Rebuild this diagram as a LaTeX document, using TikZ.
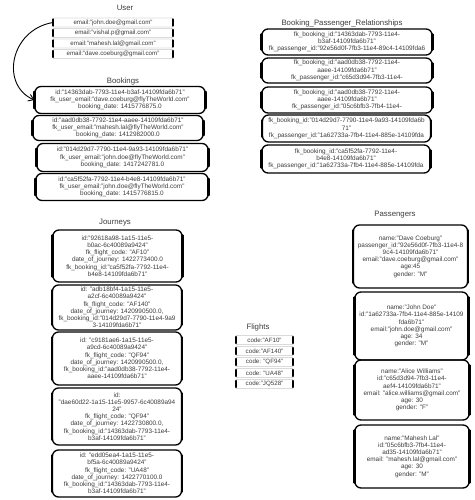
\documentclass[tikz,border=0pt]{standalone}
\usepackage{fontspec}
\setmainfont{Liberation Sans}
\usepackage{tikz}
\usetikzlibrary{arrows.meta,positioning}
\definecolor{InkGray}{RGB}{60,60,60}
\definecolor{RowGray}{RGB}{150,150,150}

\begin{document}
\begin{tikzpicture}[x=1pt,y=-1pt,
  ttl/.style={font=\fontsize{7.8}{9}\selectfont,text=InkGray},
  recbox/.style={draw=black,line width=1.3pt,rounded corners=6pt,inner sep=1pt,
                 align=center,text=InkGray,font=\fontsize{6.4}{7.2}\selectfont},
  rowbox/.style={draw=RowGray,line width=0.4pt,rounded corners=1pt,inner sep=0pt,
                 minimum height=9pt,align=center,text=InkGray,font=\fontsize{6.2}{7}\selectfont},
  side/.style={line width=2.4pt,line cap=round},
  rowside/.style={line width=1.8pt,line cap=round},
]
\useasboundingbox (0,0) rectangle (474,500);

% User
\node[ttl] (userT) at (125,8) {User};
\foreach \i/\y/\mail in {1/22.5/{john.doe@gmail.com}, 2/33/{vishal.p@gmail.com},
                         3/43.5/{mahesh.lal@gmail.com}, 4/54/{dave.coeburg@gmail.com}}
  \node[rowbox,minimum width=120pt] (usr\i) at (113,\y) {email:"\mail"};

% Bookings
\node[ttl] (bookT) at (123,81) {Bookings};
\node[recbox,minimum width=170pt,minimum height=27pt] (bk1) at (120,100)
  {id:"14363dab-7793-11e4-b3af-14109fda6b71"\\fk\_user\_email:"dave.coeburg@flyTheWorld.com"\\booking\_date: 1415776875.0};
\node[recbox,minimum width=170pt,minimum height=25pt] (bk2) at (118,128)
  {id:"aad0db38-7792-11e4-aaee-14109fda6b71"\\fk\_user\_email:"mahesh.lal@flyTheWorld.com"\\booking\_date: 1412982000.0};
\node[recbox,minimum width=171pt,minimum height=28pt] (bk3) at (122.5,157.5)
  {id:"014d29d7-7790-11e4-9a93-14109fda6b71"\\fk\_user\_email:"john.doe@flyTheWorld.com"\\booking\_date: 1417242781.0};
\node[recbox,minimum width=172pt,minimum height=27pt] (bk4) at (122,187)
  {id:"ca5f52fa-7792-11e4-b4e8-14109fda6b71"\\fk\_user\_email:"john.doe@flyTheWorld.com"\\booking\_date: 1415776815.0};

% Booking_Passenger_Relationships
\node[ttl] (relT) at (342,23) {Booking\_Passenger\_Relationships};
\node[recbox,minimum width=170pt,minimum height=26pt] (rel1) at (347,42)
  {fk\_booking\_id:"14363dab-7793-11e4-\\b3af-14109fda6b71"\\fk\_passenger\_id:"92e56d0f-7fb3-11e4-89c4-14109fda6};
\node[recbox,minimum width=170pt,minimum height=25pt] (rel2) at (347,70.5)
  {fk\_booking\_id:"aad0db38-7792-11e4-\\aaee-14109fda6b71"\\fk\_passenger\_id:"c65d3d94-7fb3-11e4-};
\node[recbox,minimum width=170pt,minimum height=26pt] (rel3) at (347,100)
  {fk\_booking\_id:"aad0db38-7792-11e4-\\aaee-14109fda6b71"\\fk\_passenger\_id:"05c6bfb3-7fb4-11e4-};
\node[recbox,minimum width=168pt,minimum height=27pt] (rel4) at (346.5,128.5)
  {fk\_booking\_id:"014d29d7-7790-11e4-9a93-14109fda6b\\71"\\fk\_passenger\_id:"1a62733a-7fb4-11e4-885e-14109fda};
\node[recbox,minimum width=168pt,minimum height=28pt] (rel5) at (346,159)
  {fk\_booking\_id:"ca5f52fa-7792-11e4-\\b4e8-14109fda6b71"\\fk\_passenger\_id:"1a62733a-7fb4-11e4-885e-14109fda};

% Journeys
\node[ttl] (jrnT) at (115,223) {Journeys};
\node[recbox,minimum width=129pt,minimum height=52pt] (jr1) at (117.5,256)
  {id:"92618a98-1a15-11e5-\\b0ac-6c40089a9424"\\fk\_flight\_code: "AF10"\\date\_of\_journey: 1422773400.0\\fk\_booking\_id:"ca5f52fa-7792-11e4-\\b4e8-14109fda6b71"};
\node[recbox,minimum width=129pt,minimum height=45pt] (jr2) at (117,307.5)
  {id: "adb18bf4-1a15-11e5-\\a2cf-6c40089a9424"\\fk\_flight\_code: "AF140"\\date\_of\_journey: 1420990500.0,\\fk\_booking\_id:"014d29d7-7790-11e4-9a9\\3-14109fda6b71"};
\node[recbox,minimum width=129pt,minimum height=53pt] (jr3) at (117,358.5)
  {id: "c9181ae6-1a15-11e5-\\a9cd-6c40089a9424"\\fk\_flight\_code: "QF94"\\date\_of\_journey: 1420990500.0,\\fk\_booking\_id:"aad0db38-7792-11e4-\\aaee-14109fda6b71"};
\node[recbox,minimum width=129pt,minimum height=57pt] (jr4) at (117,416.5)
  {id:\\"dae60d22-1a15-11e5-9957-6c40089a94\\24"\\fk\_flight\_code: "QF94"\\date\_of\_journey: 1422730800.0,\\fk\_booking\_id:"14363dab-7793-11e4-\\b3af-14109fda6b71"};
\node[recbox,minimum width=129pt,minimum height=47pt] (jr5) at (117,473.5)
  {id: "edd05ea4-1a15-11e5-\\bf5a-6c40089a9424"\\fk\_flight\_code: "UA48"\\date\_of\_journey: 1422770100.0\\fk\_booking\_id:"14363dab-7793-11e4-\\b3af-14109fda6b71"};

% Flights
\node[ttl] (fltT) at (258,327) {Flights};
\foreach \i/\y/\code in {1/340/{code:"AF10"}, 2/351/{code:"AF140"}, 3/362/{code: "QF94"},
                         4/373/{code: "UA48"}, 5/384/{code:"JQ528"}}
  \node[rowbox,minimum width=57pt] (flt\i) at (264.5,\y) {\code};

% Passengers
\node[ttl] (pasT) at (395,215) {Passengers};
\node[recbox,minimum width=114pt,minimum height=63pt] (ps1) at (410.5,256.5)
  {name:"Dave Coeburg"\\passenger\_id:"92e56d0f-7fb3-11e4-8\\9c4-14109fda6b71"\\email:"dave.coeburg@gmail.com"\\age:45\\gender: "M"};
\node[recbox,minimum width=113pt,minimum height=68pt] (ps2) at (411.5,326)
  {name:"John Doe"\\id:"1a62733a-7fb4-11e4-885e-14109\\fda6b71"\\email:"john.doe@gmail.com"\\age: 34\\gender: "M"};
\node[recbox,minimum width=114pt,minimum height=60pt] (ps3) at (412,390)
  {name:"Alice Williams"\\id:"c65d3d94-7fb3-11e4-\\aef4-14109fda6b71"\\email: "alice.williams@gmail.com"\\age: 30\\gender: "F"};
\node[recbox,minimum width=114pt,minimum height=63pt] (ps4) at (412,456.5)
  {name:"Mahesh Lal"\\id:"05c6bfb3-7fb4-11e4-\\ad35-14109fda6b71"\\email: "mahesh.lal@gmail.com"\\age: 30\\gender: "M"};

% marker strokes on the sides
\foreach \n in {bk1,bk2,bk3,bk4,rel1,rel2,rel3,rel4,rel5,jr1,jr2,jr3,jr4,jr5,ps1,ps2,ps3,ps4}
  \draw[side] ([yshift=-6pt]\n.north west) -- ([yshift=6pt]\n.south west)
              ([yshift=-6pt]\n.north east) -- ([yshift=6pt]\n.south east);
\foreach \n in {usr1,usr2,usr3,usr4,flt1,flt2,flt3,flt4,flt5}
  \draw[rowside] ([yshift=-1.5pt]\n.north west) -- ([yshift=1.5pt]\n.south west)
                 ([yshift=-1.5pt]\n.north east) -- ([yshift=1.5pt]\n.south east);

% user -> booking
\draw[line width=0.9pt,-{Straight Barb[length=5pt,width=7pt]}]
  (usr1.west) .. controls (10,30) and (0,85) .. (bk1.west);
\end{tikzpicture}
\end{document}
